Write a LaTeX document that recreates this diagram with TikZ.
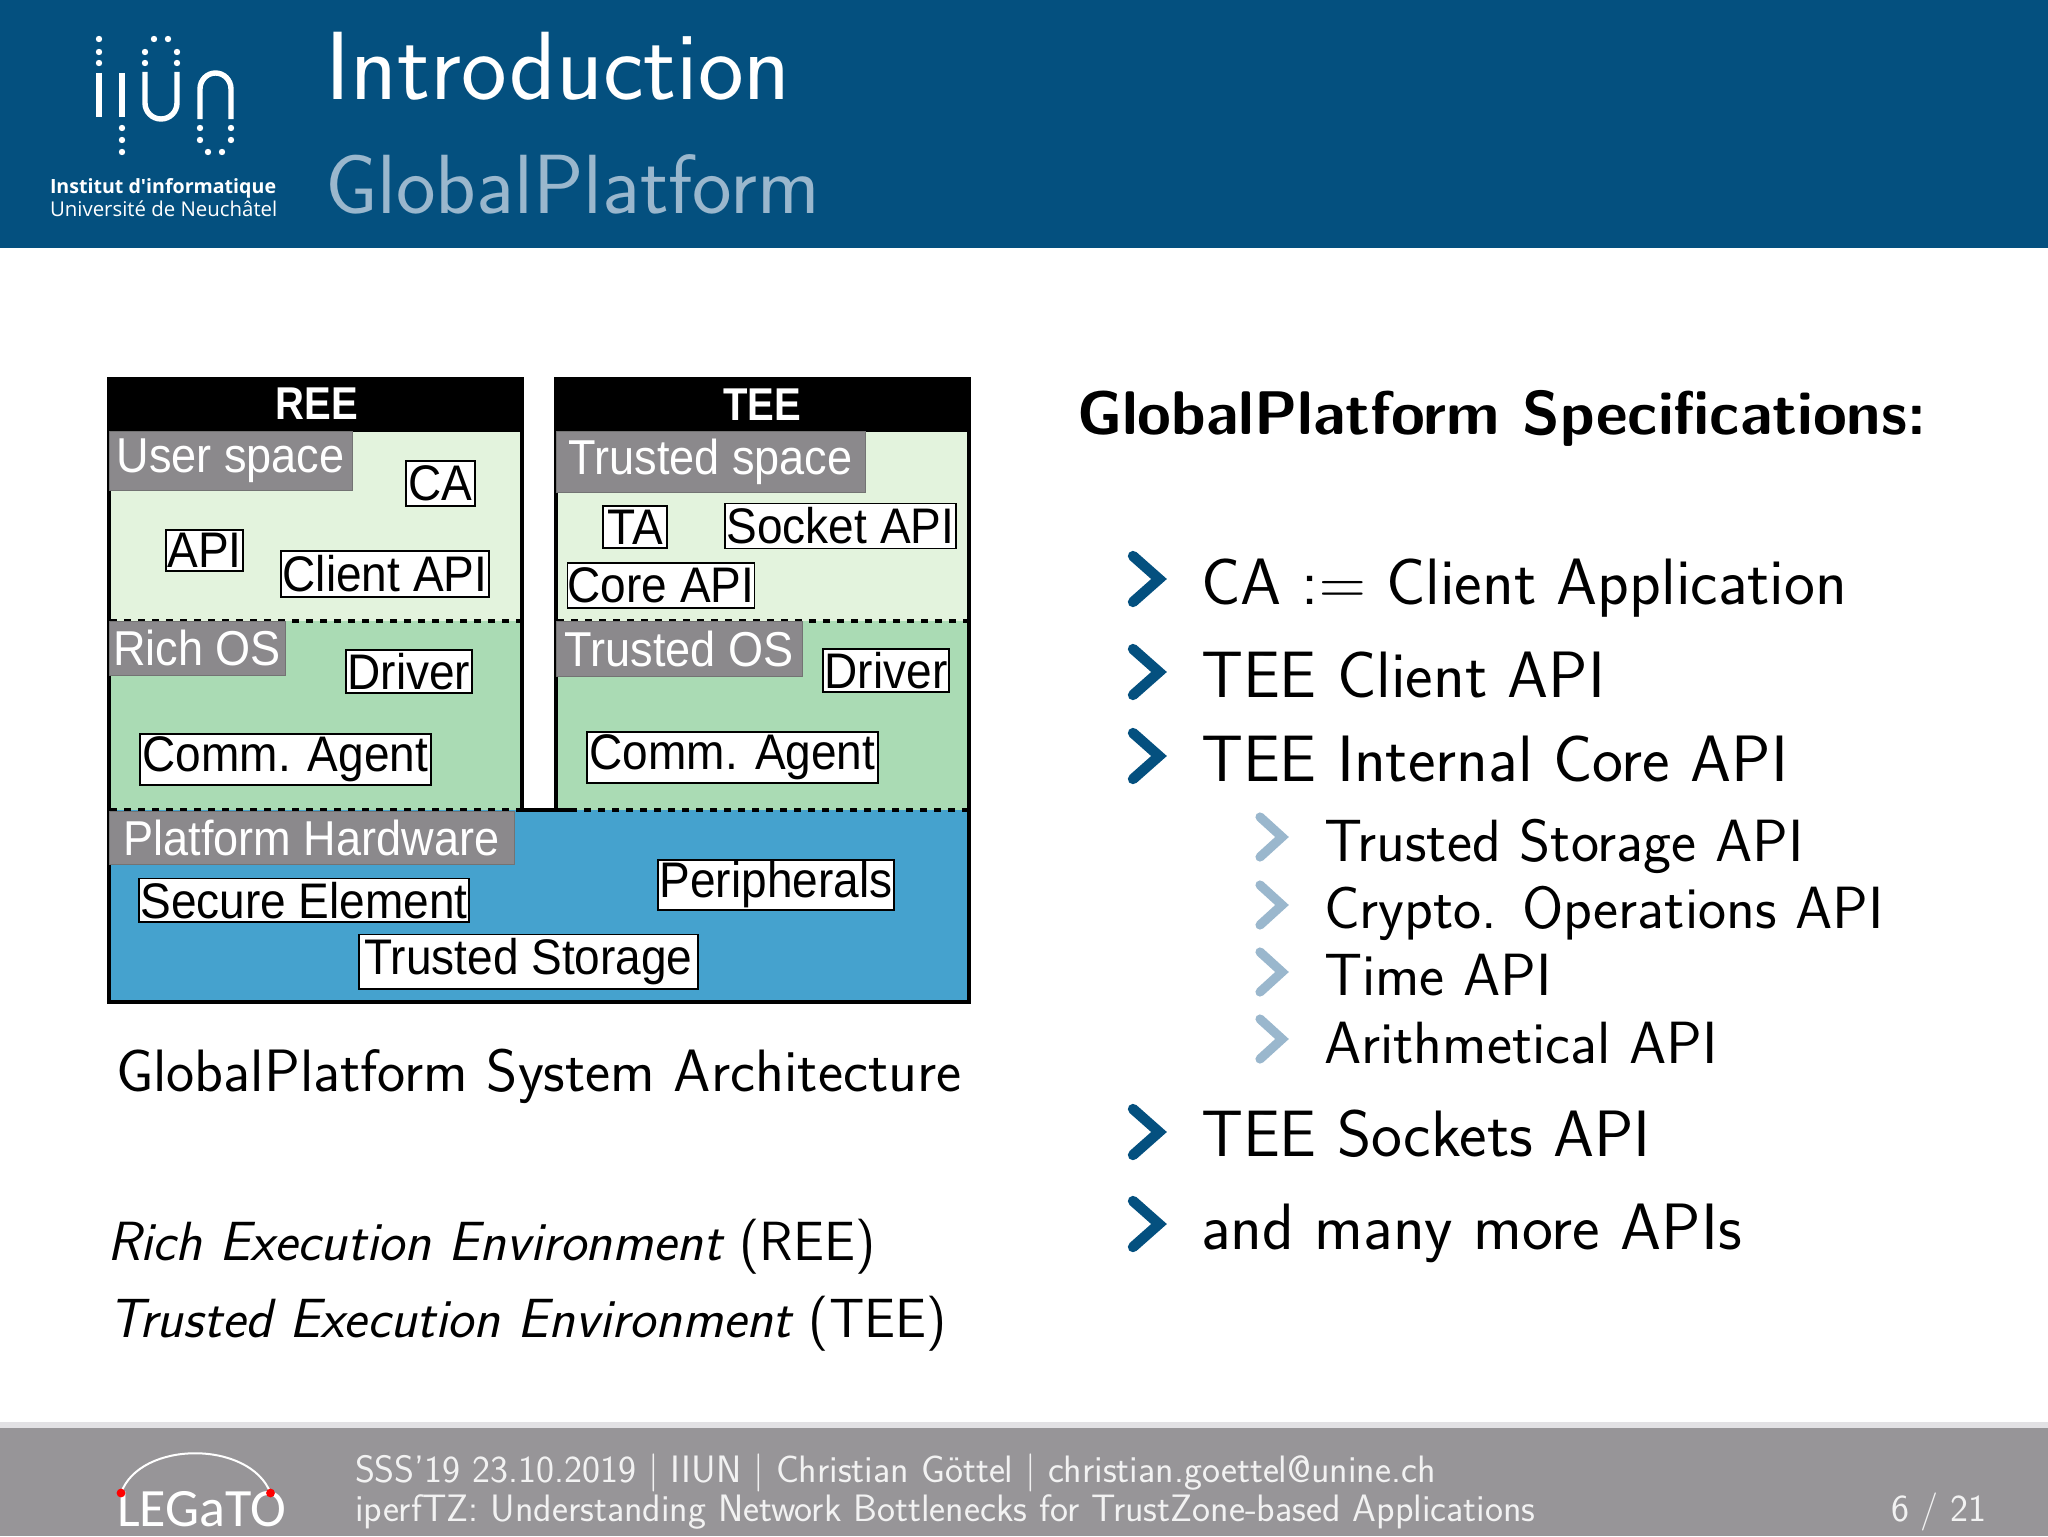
\documentclass[tikz,border=0pt]{standalone}
\usepackage{fontspec}
\newfontfamily\diagfont[FakeStretch=0.92]{Liberation Sans}
\newfontfamily\headfont[FakeStretch=0.87]{Liberation Sans}
\newfontfamily\logofont{Open Sans}
\newfontfamily\legatofont{Carlito}
\definecolor{headblue}{HTML}{04507F}
\definecolor{subtitle}{HTML}{9AB7CD}
\definecolor{lightgreen}{HTML}{E3F3DD}
\definecolor{midgreen}{HTML}{AADBB4}
\definecolor{hwblue}{HTML}{45A2CE}
\definecolor{labelgray}{HTML}{8B898C}
\definecolor{footgray}{HTML}{979598}
\definecolor{footline}{HTML}{E2E1E4}
\definecolor{foottext}{HTML}{F2F2F2}
\newcommand{\fsz}[1]{\fontsize{#1}{#1}\selectfont}
\tikzset{
  x=0.5pt,y=-0.5pt,
  txt/.style={anchor=base west,inner sep=0pt,outer sep=0pt},
  whitebox/.style={draw=black,line width=0.6pt,fill=white,inner sep=0pt,text=black,font=\diagfont\fsz{25}},
  graybox/.style={draw=black!55,line width=0.4pt,fill=labelgray,inner sep=0pt,text=white,font=\diagfont\fsz{24.5}},
  headlabel/.style={text=white,inner sep=0pt,font=\headfont\bfseries\fsz{23}},
  bigchev/.style={draw=headblue,line width=5.2pt,line join=miter,line cap=round},
  smallchev/.style={draw=subtitle,line width=4.6pt,line join=miter,line cap=round},
  item/.style={txt,font=\sffamily\fsz{32.8}},
  subitem/.style={txt,font=\sffamily\fsz{29.8}},
  foot/.style={txt,text=foottext,font=\sffamily\fsz{19.1}},
  logoline/.style={draw=white,line width=2.7pt},
  dashline/.style={black,line width=1.7pt,dash pattern=on 3.7pt off 3.3pt}
}
\newcommand{\bx}[7]{\node[#1,minimum width={(#5-#3)*0.5pt},minimum height={(#6-#4)*0.5pt}] (#2) at ({(#3+#5)/2},{(#4+#6)/2}) {#7};}
\newcommand{\bigc}[2]{\draw[bigchev] (#1-13,#2-23) -- (#1+13,#2) -- (#1-13,#2+23);}
\newcommand{\smallc}[2]{\draw[smallchev] (#1-11,#2-20) -- (#1+11,#2) -- (#1-11,#2+20);}
\newcommand{\ldot}[2]{\fill[white] (#1,#2) circle (1.6pt);}
\begin{document}
\begin{tikzpicture}
\useasboundingbox (0,0) rectangle (2048,1536);
\fill[white] (0,0) rectangle (2048,1536);
% header
\fill[headblue] (0,0) rectangle (2048,248);
\node[txt,text=white,font=\sffamily\fsz{48.5}] (title) at (325,99) {Introduction};
\node[txt,text=subtitle,font=\sffamily\fsz{42}] (subt) at (325,213) {GlobalPlatform};
% logo
\draw[logoline] (99,73) -- (99,117);
\draw[logoline] (122,73) -- (122,117);
\draw[logoline] (145,72) -- (145,103) arc[start angle=180,end angle=360,x radius=16,y radius=-16] -- (177,72);
\draw[logoline] (200,119) -- (200,89) arc[start angle=180,end angle=0,x radius=15.5,y radius=-16] -- (231,119);
\foreach \p in {39,52,63}{\ldot{99}{\p}}
\foreach \p in {52,63}{\ldot{145}{\p}\ldot{177}{\p}}
\ldot{154}{39}\ldot{168}{39}
\foreach \p in {128,140,152}{\ldot{122}{\p}}
\foreach \p in {128,140}{\ldot{200}{\p}\ldot{231}{\p}}
\ldot{208}{152}\ldot{222}{152}
\node[txt,text=white,font=\logofont\bfseries\fsz{9.8}] (inst) at (50,193) {Institut d'informatique};
\node[txt,text=white,font=\logofont\fsz{10.2}] (univ) at (50,216) {Université de Neuchâtel};
% panels
\fill[lightgreen] (107,431) rectangle (523,621);
\fill[midgreen] (107,621) rectangle (523,810);
\fill[lightgreen] (554,431) rectangle (970,621);
\fill[midgreen] (554,621) rectangle (970,810);
\fill[hwblue] (107,810) rectangle (970,1003);
\fill[black] (107,377) rectangle (523,431.5);
\fill[black] (554,377) rectangle (970,431.5);
\draw[black,line width=2pt] (108.5,377) -- (108.5,1001.5) -- (968.5,1001.5) -- (968.5,377);
\draw[black,line width=2pt] (521.5,377) -- (521.5,810);
\draw[black,line width=2pt] (555.5,377) -- (555.5,810);
\draw[black,line width=2pt] (520,810) -- (570,810);
\draw[dashline] (110,621) -- (520,621);
\draw[dashline] (557,621) -- (967,621);
\draw[dashline] (110,810) -- (520,810);
\draw[dashline] (570,810) -- (967,810);
\node[headlabel] (ree) at (317,404) {REE};
\node[headlabel] (tee) at (762,405) {TEE};
\bx{graybox}{userspace}{109}{431.5}{352}{490.5}{User space}
\bx{graybox}{trustedspace}{556}{431.5}{865}{492}{Trusted space}
\bx{graybox}{richos}{109}{621}{285}{675}{Rich OS}
\bx{graybox}{trustedos}{556}{621}{802}{676}{Trusted OS}
\bx{graybox}{platform}{109}{811}{514}{864}{Platform Hardware}
\bx{whitebox}{ca}{406}{461}{475}{506}{CA}
\bx{whitebox}{api}{166}{530}{243}{571}{API}
\bx{whitebox}{clientapi}{281}{551}{489}{597}{Client API}
\bx{whitebox}{ta}{603}{506}{667}{548}{TA}
\bx{whitebox}{socketapi}{725}{503.5}{956}{548.5}{Socket API}
\bx{whitebox}{coreapi}{568}{563}{754}{608}{Core API}
\bx{whitebox}{driverl}{346}{650}{472}{693}{Driver}
\bx{whitebox}{driverr}{823}{649}{949}{692}{Driver}
\bx{whitebox}{comml}{140}{734}{431}{785}{Comm. Agent}
\bx{whitebox}{commr}{587}{732}{878}{783}{Comm. Agent}
\bx{whitebox}{secure}{139}{878.5}{469}{922}{Secure Element}
\bx{whitebox}{periph}{658}{860}{894}{910}{Peripherals}
\bx{whitebox}{storage}{359}{934.5}{698}{989}{Trusted Storage}
% left texts
\node[txt,font=\sffamily\fsz{29.9}] (cap) at (116,1091) {GlobalPlatform System Architecture};
\node[txt,font=\sffamily\fsz{27.6}] (richdef) at (107,1260) {\itshape Rich Execution Environment \upshape (REE)};
\node[txt,font=\sffamily\fsz{27.6}] (trustdef) at (108,1337) {\itshape Trusted Execution Environment \upshape (TEE)};
% right
\node[txt,font=\sffamily\bfseries\fsz{30.8}] (spec) at (1077,434) {GlobalPlatform Specifications:};
\bigc{1146}{579}\node[item] (i1) at (1201,604) {CA :\scalebox{1.3}{$=$} Client Application};
\bigc{1146}{672}\node[item] (i2) at (1201,697) {TEE Client API};
\bigc{1146}{756}\node[item] (i3) at (1201,781) {TEE Internal Core API};
\smallc{1271}{837}\node[subitem] (s1) at (1324,861) {Trusted Storage API};
\smallc{1271}{905}\node[subitem] (s2) at (1324,928) {Crypto. Operations API};
\smallc{1271}{972}\node[subitem] (s3) at (1324,995) {Time API};
\smallc{1271}{1039}\node[subitem] (s4) at (1324,1063) {Arithmetical API};
\bigc{1146}{1132}\node[item] (i4) at (1201,1156) {TEE Sockets API};
\bigc{1146}{1224}\node[item] (i5) at (1201,1249) {and many more APIs};
% footer
\fill[footline] (0,1422) rectangle (2048,1428);
\fill[footgray] (0,1428) rectangle (2048,1536);
\draw[white,line width=1pt] (121,1493) .. controls (140,1440) and (250,1440) .. (270.5,1493);
\node[txt,text=white,font=\legatofont\fsz{27}] (legato) at (117,1526) {LEGaTO};
\fill[red] (121,1493) circle (2.2pt);
\fill[red] (270.5,1493) circle (2.2pt);
\node[foot] (f1) at (355,1482) {SSS’19 23.10.2019 | IIUN | Christian Göttel | christian.goettel@unine.ch};
\node[foot] (f2) at (355,1521) {iperfTZ: Understanding Network Bottlenecks for TrustZone-based Applications};
\node[foot] (page) at (1891,1521) {6 / 21};
\end{tikzpicture}
\end{document}
